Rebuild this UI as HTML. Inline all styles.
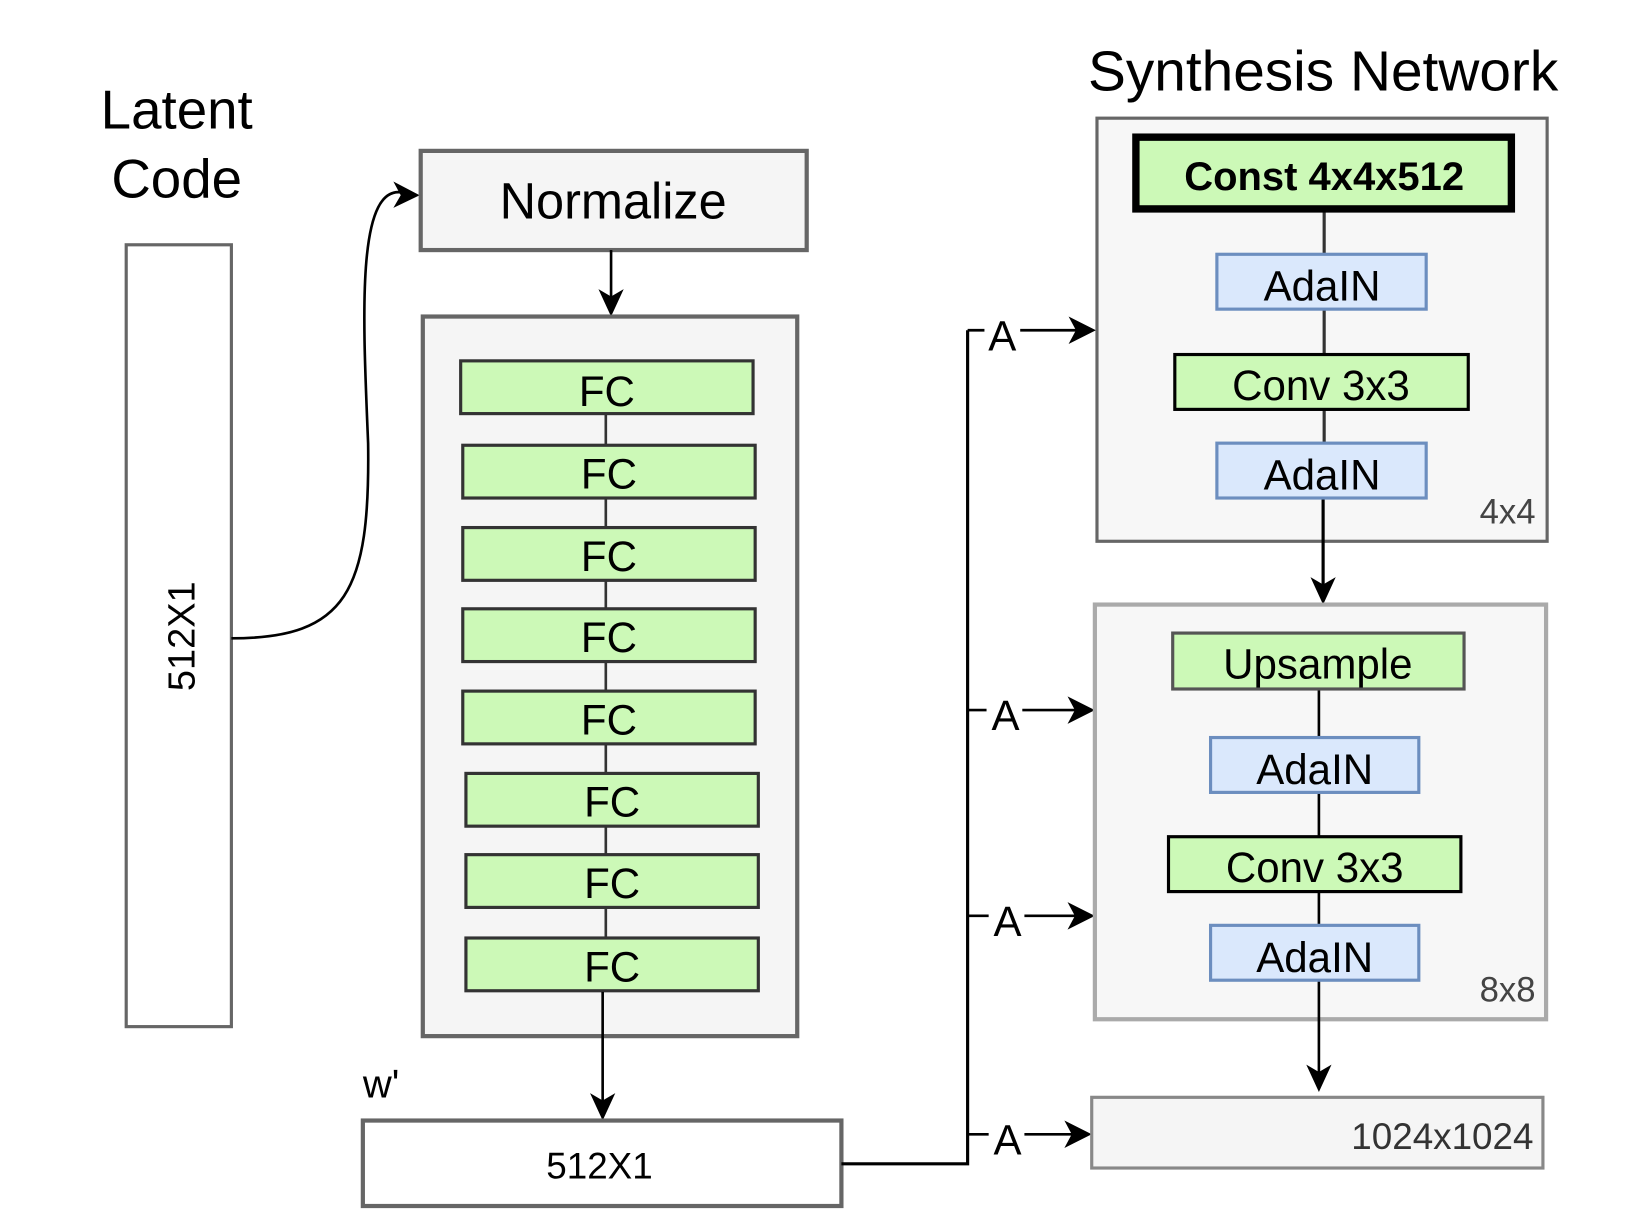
<!DOCTYPE html>
<html><head><meta charset="utf-8"><style>
html,body{margin:0;padding:0;background:#fff;width:1646px;height:1225px;overflow:hidden}
svg{display:block}
text{font-family:"Liberation Sans",Arial,sans-serif;fill:#000}
</style></head><body>
<svg width="1646" height="1225" viewBox="0 0 1565 1161" preserveAspectRatio="none" xmlns="http://www.w3.org/2000/svg">
<text x="168" y="122" font-size="52" text-anchor="middle">Latent</text>
<text x="168" y="187" font-size="52" text-anchor="middle">Code</text>
<rect x="120" y="232" width="100" height="741" fill="#fff" stroke="#666" stroke-width="3"/>
<text x="0" y="0" font-size="36" text-anchor="middle" transform="translate(185,603) rotate(-90)">512X1</text>
<path d="M220,605 C330,605 352,560 350,420 C345,300 338,170 385,183" fill="none" stroke="#000" stroke-width="2.5"/>
<path d="M399,185 L374,172 L381,185 L374,197 Z" fill="#000"/>
<rect x="400" y="143" width="367" height="94" fill="#f5f5f5" stroke="#666" stroke-width="4"/>
<text x="583" y="207" font-size="48" text-anchor="middle">Normalize</text>
<line x1="581" y1="237" x2="581" y2="285" stroke="#000" stroke-width="2.5"/>
<path d="M581,300 L569,274 L581,281 L593,274 Z" fill="#000"/>
<rect x="402" y="300" width="356" height="682" fill="#f5f5f5" stroke="#666" stroke-width="4"/>
<line x1="576" y1="392" x2="576" y2="889" stroke="#333" stroke-width="2.5"/>
<g fill="#ccf9b7" stroke="#333" stroke-width="3">
<rect x="438" y="342" width="278" height="50"/>
<rect x="440" y="422" width="278" height="50"/>
<rect x="440" y="500" width="278" height="50"/>
<rect x="440" y="577" width="278" height="50"/>
<rect x="440" y="655" width="278" height="50"/>
<rect x="443" y="733" width="278" height="50"/>
<rect x="443" y="810" width="278" height="50"/>
<rect x="443" y="889" width="278" height="50"/>
</g>
<g font-size="40" text-anchor="middle">
<text x="577" y="385">FC</text>
<text x="579" y="463">FC</text>
<text x="579" y="541">FC</text>
<text x="579" y="618">FC</text>
<text x="579" y="696">FC</text>
<text x="582" y="774">FC</text>
<text x="582" y="851">FC</text>
<text x="582" y="930">FC</text>
</g>
<line x1="573" y1="940" x2="573" y2="1045" stroke="#000" stroke-width="2.5"/>
<path d="M573,1062 L561,1036 L573,1043 L585,1036 Z" fill="#000"/>
<text x="345" y="1040" font-size="38">w'</text>
<rect x="345" y="1062" width="455" height="81" fill="#fff" stroke="#666" stroke-width="4"/>
<text x="570" y="1117" font-size="35" text-anchor="middle">512X1</text>
<polyline points="800,1103 920,1103 920,313" fill="none" stroke="#000" stroke-width="3"/>
<g stroke="#000" stroke-width="2.5">
<line x1="920" y1="313" x2="936" y2="313"/><line x1="970" y1="313" x2="1025" y2="313"/>
<line x1="920" y1="673" x2="938" y2="673"/><line x1="972" y1="673" x2="1025" y2="673"/>
<line x1="920" y1="868" x2="940" y2="868"/><line x1="974" y1="868" x2="1025" y2="868"/>
<line x1="920" y1="1075" x2="940" y2="1075"/><line x1="974" y1="1075" x2="1022" y2="1075"/>
</g>
<g fill="#000">
<path d="M1042,313 L1016,300 L1023,313 L1016,326 Z"/>
<path d="M1041,673 L1015,660 L1022,673 L1015,686 Z"/>
<path d="M1041,868 L1015,855 L1022,868 L1015,881 Z"/>
<path d="M1038,1075 L1012,1062 L1019,1075 L1012,1088 Z"/>
</g>
<g font-size="40" text-anchor="middle">
<text x="953" y="332">A</text>
<text x="956" y="692">A</text>
<text x="958" y="887">A</text>
<text x="958" y="1094">A</text>
</g>
<text x="1258" y="86" font-size="54" text-anchor="middle">Synthesis Network</text>
<rect x="1043" y="112" width="428" height="401" fill="#f7f7f7" stroke="#666" stroke-width="3"/>
<line x1="1259" y1="198" x2="1259" y2="420" stroke="#333" stroke-width="3"/>
<line x1="1258" y1="472" x2="1258" y2="555" stroke="#000" stroke-width="3"/>
<path d="M1258,573 L1246,547 L1258,554 L1270,547 Z" fill="#000"/>
<rect x="1080" y="130" width="357" height="68" fill="#ccf9b7" stroke="#000" stroke-width="7"/>
<text x="1259" y="180" font-size="38" font-weight="bold" text-anchor="middle">Const 4x4x512</text>
<rect x="1157" y="241" width="199" height="52" fill="#dae8fc" stroke="#6c8ebf" stroke-width="3"/>
<text x="1257" y="285" font-size="40" text-anchor="middle">AdaIN</text>
<rect x="1117" y="336" width="279" height="52" fill="#ccf9b7" stroke="#000" stroke-width="3"/>
<text x="1256" y="379" font-size="40" text-anchor="middle">Conv 3x3</text>
<rect x="1157" y="420" width="199" height="52" fill="#dae8fc" stroke="#6c8ebf" stroke-width="3"/>
<text x="1257" y="464" font-size="40" text-anchor="middle">AdaIN</text>
<text x="1460" y="496" font-size="33" text-anchor="end" style="fill:#444">4x4</text>
<rect x="1041" y="573" width="429" height="393" fill="#f7f7f7" stroke="#aaa" stroke-width="4"/>
<line x1="1254" y1="653" x2="1254" y2="1018" stroke="#000" stroke-width="2.5"/>
<path d="M1254,1035 L1242,1009 L1254,1016 L1266,1009 Z" fill="#000"/>
<rect x="1115" y="600" width="277" height="53" fill="#ccf9b7" stroke="#555" stroke-width="3"/>
<text x="1253" y="643" font-size="40" text-anchor="middle">Upsample</text>
<rect x="1151" y="699" width="198" height="52" fill="#dae8fc" stroke="#6c8ebf" stroke-width="3"/>
<text x="1250" y="743" font-size="40" text-anchor="middle">AdaIN</text>
<rect x="1111" y="793" width="278" height="52" fill="#ccf9b7" stroke="#000" stroke-width="3"/>
<text x="1250" y="836" font-size="40" text-anchor="middle">Conv 3x3</text>
<rect x="1151" y="877" width="198" height="52" fill="#dae8fc" stroke="#6c8ebf" stroke-width="3"/>
<text x="1250" y="921" font-size="40" text-anchor="middle">AdaIN</text>
<text x="1460" y="949" font-size="33" text-anchor="end" style="fill:#444">8x8</text>
<rect x="1038" y="1040" width="429" height="67" fill="#f5f5f5" stroke="#888" stroke-width="3"/>
<text x="1458" y="1089" font-size="35" text-anchor="end" style="fill:#333">1024x1024</text>
</svg>
</body></html>
